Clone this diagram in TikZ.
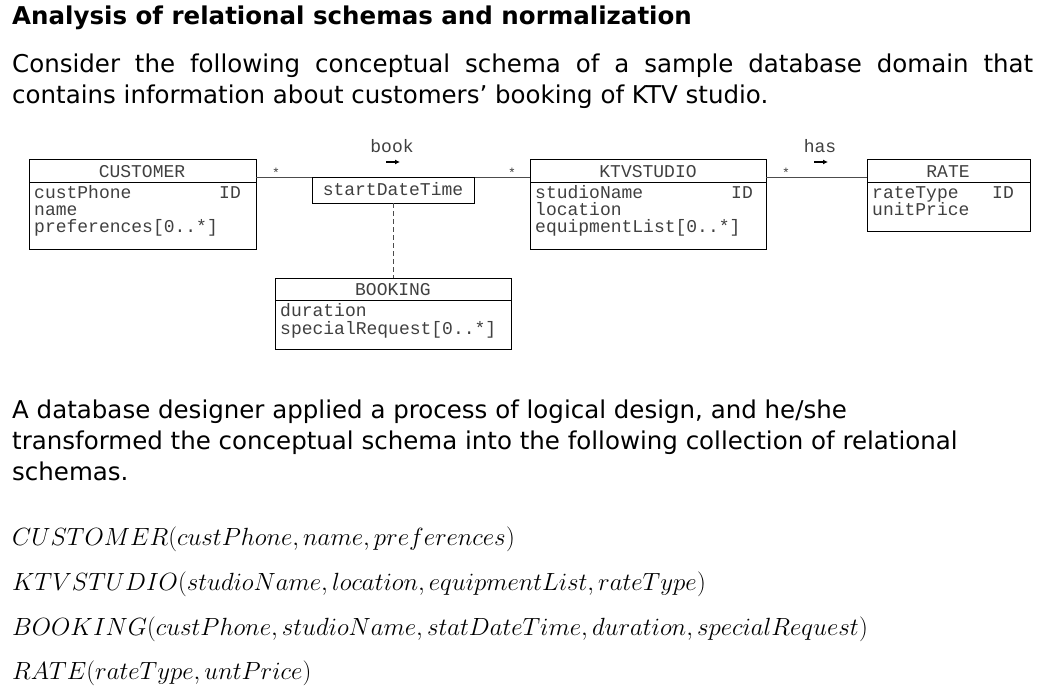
\documentclass[tikz,border=0pt]{standalone}
\usepackage{fontspec}
\usetikzlibrary{arrows.meta}
\setmainfont{DejaVu Sans}
\newfontfamily\monof{Liberation Mono}
\begin{document}
\begin{tikzpicture}[x=1pt,y=-1pt,
  box/.style={draw,line width=0.9pt},
  mono/.style={font=\fontsize{18}{17}\monof,text=black!75,inner sep=0pt,anchor=base west},
  monoc/.style={font=\fontsize{18}{17}\monof,text=black!75,inner sep=0pt,anchor=base},
  ln/.style={line width=0.7pt,black!70},
  para/.style={font=\fontsize{24.5}{31}\selectfont,inner sep=0pt,anchor=north west,align=left}]
\useasboundingbox (0,0) rectangle (1043,689);
\node[font=\fontsize{24.5}{26}\bfseries,inner sep=0pt,anchor=base west] (title) at (12,24) {Analysis of relational schemas and normalization};
\node[para,text width=1021,align=justify] (p1) at (12,54) {Consider the following conceptual schema of a sample database domain that\linebreak contains information about customers’ booking of KTV studio.};
% boxes
\draw[box] (29,159) rectangle (256,249); \draw[box] (29,182) -- (256,182);
\node[monoc] (cust) at (142,177) {CUSTOMER};
\node[mono] at (34,198) {custPhone}; \node[mono] at (219,198) {ID};
\node[mono] at (34,215) {name}; \node[mono] at (34,232) {preferences[0..*]};
\draw[box] (530,159) rectangle (766,249); \draw[box] (530,182) -- (766,182);
\node[monoc] (ktv) at (648,177) {KTVSTUDIO};
\node[mono] at (535,198) {studioName}; \node[mono] at (731,198) {ID};
\node[mono] at (535,215) {location}; \node[mono] at (535,232) {equipmentList[0..*]};
\draw[box] (867,159) rectangle (1030,231); \draw[box] (867,182) -- (1030,182);
\node[monoc] (rate) at (948,177) {RATE};
\node[mono] at (872,198) {rateType}; \node[mono] at (992,198) {ID};
\node[mono] at (872,215) {unitPrice};
\draw[box] (275,278) rectangle (511,349); \draw[box] (275,300) -- (511,300);
\node[monoc] (book) at (393,295) {BOOKING};
\node[mono] at (280,316) {duration}; \node[mono] at (280,334) {specialRequest[0..*]};
% connectors
\coordinate (c1) at (256,177); \coordinate (c2) at (530,177);
\coordinate (c3) at (766,177); \coordinate (c4) at (867,177);
\draw[ln] (c1) -- (c2); \draw[ln] (c3) -- (c4);
\draw[box,fill=white] (312,177) rectangle (474,203);
\node[monoc] (sdt) at (393,195) {startDateTime};
\coordinate (d1) at (393,203); \coordinate (d2) at (393,278);
\draw[ln,dash pattern=on 5pt off 3pt] (d1) -- (d2);
\node[monoc] at (392,152) {book}; \node[monoc] at (820,152) {has};
\draw[line width=1.2pt,-{Latex[length=5pt,width=5pt]}] (386,162) -- (400,162);
\draw[line width=1.2pt,-{Latex[length=5pt,width=5pt]}] (814,162) -- (828,162);
\node[monoc,font=\fontsize{13}{12}\monof] at (276,177) {*};
\node[monoc,font=\fontsize{13}{12}\monof] at (512,177) {*};
\node[monoc,font=\fontsize{13}{12}\monof] at (786,177) {*};
\node[para] (p2) at (12,400) {A database designer applied a process of logical design, and he/she\\transformed the conceptual schema into the following collection of relational\\schemas.};
\begin{scope}[every node/.style={font=\fontsize{23}{26}\selectfont,inner sep=0pt,anchor=base west}]
\node (r1) at (12,545) {$CUSTOMER(custPhone,name,preferences)$};
\node (r2) at (12,590) {$KTVSTUDIO(studioName,location,equipmentList,rateType)$};
\node (r3) at (12,635) {$BOOKING(custPhone,studioName,statDateTime,duration,specialRequest)$};
\node (r4) at (12,679) {$RATE(rateType,untPrice)$};
\end{scope}
\end{tikzpicture}
\end{document}
